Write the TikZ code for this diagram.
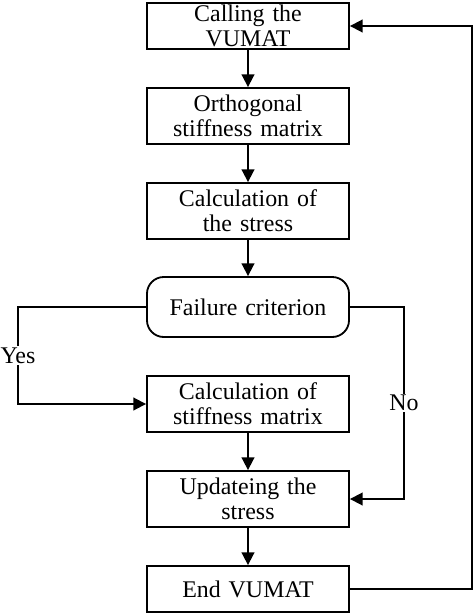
\documentclass[tikz,border=0pt]{standalone}
\usepackage{fontspec}
\setmainfont{Liberation Serif}
\usetikzlibrary{arrows.meta}

\tikzset{
    box/.style={draw, line width=1.3pt, minimum width=5.05cm, text width=4.9cm, align=center, inner sep=0pt, font=\fontsize{17}{17.6}\selectfont},
    decide/.style={box, rounded corners=0.42cm},
    arr/.style={line width=1.3pt, -{Triangle[length=9pt,width=9pt]}},
    lbl/.style={fill=white, inner sep=1pt, font=\fontsize{17}{17.6}\selectfont}
}

\begin{document}
\begin{tikzpicture}[x=0.025cm, y=-0.025cm]

    % Fix the page size
    \useasboundingbox (0,0) rectangle (474,613);

    % Process boxes
    \node[box, minimum height=1.15cm] (call) at (248,26) {Calling the\\VUMAT};
    \node[box, minimum height=1.4cm] (ortho) at (248,116) {Orthogonal\\stiffness matrix};
    \node[box, minimum height=1.4cm] (calcs) at (248,211) {Calculation of\\the stress};
    \node[decide, minimum height=1.5cm] (fail) at (248,307) {Failure criterion};
    \node[box, minimum height=1.4cm] (calck) at (248,404) {Calculation of\\stiffness matrix};
    \node[box, minimum height=1.4cm] (upd) at (248,499) {Updateing the\\stress};
    \node[box, minimum height=1.15cm] (endv) at (248,589) {End VUMAT};

    % Corners of the side lines
    \coordinate (yesx) at (18,0);
    \coordinate (nox) at (404,0);
    \coordinate (backx) at (472,0);

    % Main flow
    \draw[arr] (call) -- (ortho);
    \draw[arr] (ortho) -- (calcs);
    \draw[arr] (calcs) -- (fail);
    \draw[arr] (calck) -- (upd);
    \draw[arr] (upd) -- (endv);

    % Branches
    \draw[arr] (fail.west) -- (yesx |- fail.west) -- node[lbl] {Yes} (yesx |- calck.west) -- (calck.west);
    \draw[arr] (fail.east) -- (nox |- fail.east) -- node[lbl] {No} (nox |- upd.east) -- (upd.east);

    % Loop back
    \draw[arr] (endv.east) -- (backx |- endv.east) -- (backx |- call.east) -- (call.east);

\end{tikzpicture}
\end{document}
